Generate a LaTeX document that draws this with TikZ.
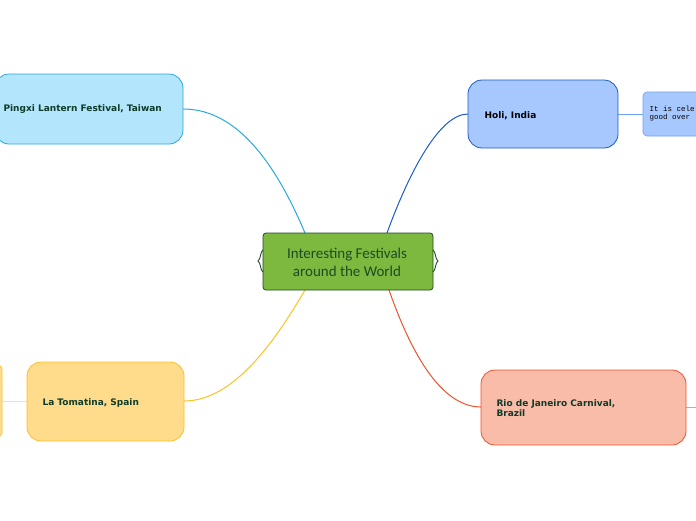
\documentclass[tikz,border=0pt]{standalone}
\usepackage{fontspec}
\newfontfamily\cf{Carlito}
\newfontfamily\vf{DejaVu Sans}
\newfontfamily\mf{Liberation Mono}
\begin{document}
\begin{tikzpicture}[x=1pt,y=-1pt,
 box/.style={rounded corners=14pt,line width=0.8pt},
 lbl/.style={font=\vf\bfseries\fontsize{9}{10.5}\selectfont,text=tx,anchor=west,align=left},
 conn/.style={line width=1pt}]
\useasboundingbox (0,0) rectangle (696,520);
\clip (0,0) rectangle (696,520);
\definecolor{tx}{HTML}{0E3B2A}
\definecolor{cg}{HTML}{7DB93F}\definecolor{cgd}{HTML}{1F4A25}
\definecolor{pc}{HTML}{B3E5FC}\definecolor{pcd}{HTML}{29A8E0}
\definecolor{hc}{HTML}{A7C7FF}\definecolor{hcd}{HTML}{1E5BC6}
\definecolor{nd}{HTML}{6FA0F0}
\definecolor{tc}{HTML}{FFDC8C}\definecolor{tcd}{HTML}{FFC020}
\definecolor{rc}{HTML}{F9BCA8}\definecolor{rcd}{HTML}{F0502A}
% connectors
\coordinate (cpl) at (305,233); \coordinate (cpr) at (387,233);
\coordinate (cbl) at (305,290); \coordinate (cbr) at (389,290);
\coordinate (pe) at (183,109); \coordinate (he) at (468,114);
\coordinate (te) at (184,401); \coordinate (re) at (481,407);
\draw[conn,pcd] (cpl) .. controls (270,150) and (230,109) .. (pe);
\draw[conn,hcd] (cpr) .. controls (410,170) and (440,114) .. (he);
\draw[conn,tcd] (cbl) .. controls (270,350) and (230,401) .. (te);
\draw[conn,rcd] (cbr) .. controls (410,350) and (440,407) .. (re);
\draw[nd,line width=0.6pt] (618,114) -- (643,114);
\draw[tcd!50,line width=0.6pt] (2,401) -- (27,401);
\draw[rcd!60,line width=0.6pt] (686,407) -- (700,407);
% boxes
\draw[box,fill=pc,draw=pcd] (-5,74) rectangle (183,144);
\node[lbl] (p) at (0,109) {Pingxi Lantern Festival, Taiwan};
\draw[box,fill=hc,draw=hcd] (468,80) rectangle (618,148);
\node[lbl,text=black] (h) at (481,116) {Holi, India};
\draw[rounded corners=4pt,fill=hc,draw=nd,line width=0.6pt] (643,92) rectangle (710,136);
\node[anchor=west,align=left,font=\mf\fontsize{7.5}{8}\selectfont] (n) at (646,114) {It is cele\\good over};
\draw[rounded corners=4pt,fill=tc,draw=tcd,line width=0.6pt] (-20,365) rectangle (2,437);
\draw[box,fill=tc,draw=tcd] (27,362) rectangle (184,441);
\node[lbl] (t) at (39,403) {La Tomatina, Spain};
\draw[box,fill=rc,draw=rcd] (481,370) rectangle (686,445);
\node[lbl] (r) at (493,408) {Rio de Janeiro Carnival,\\Brazil};
% center
\draw[rounded corners=3pt,fill=cg,draw=cgd,line width=0.8pt] (263,233) rectangle (433,290);
\draw[cgd,line width=0.9pt] (263,250) .. controls (260,252) and (261,259) .. (258,261) .. controls (261,263) and (260,270) .. (263,272);
\draw[cgd,line width=0.9pt] (433,250) .. controls (436,252) and (435,259) .. (438,261) .. controls (435,263) and (436,270) .. (433,272);
\node[align=center,font=\cf\fontsize{15}{18}\selectfont,text=cgd] (c) at (347,262) {Interesting Festivals\\around the World};
\end{tikzpicture}
\end{document}
